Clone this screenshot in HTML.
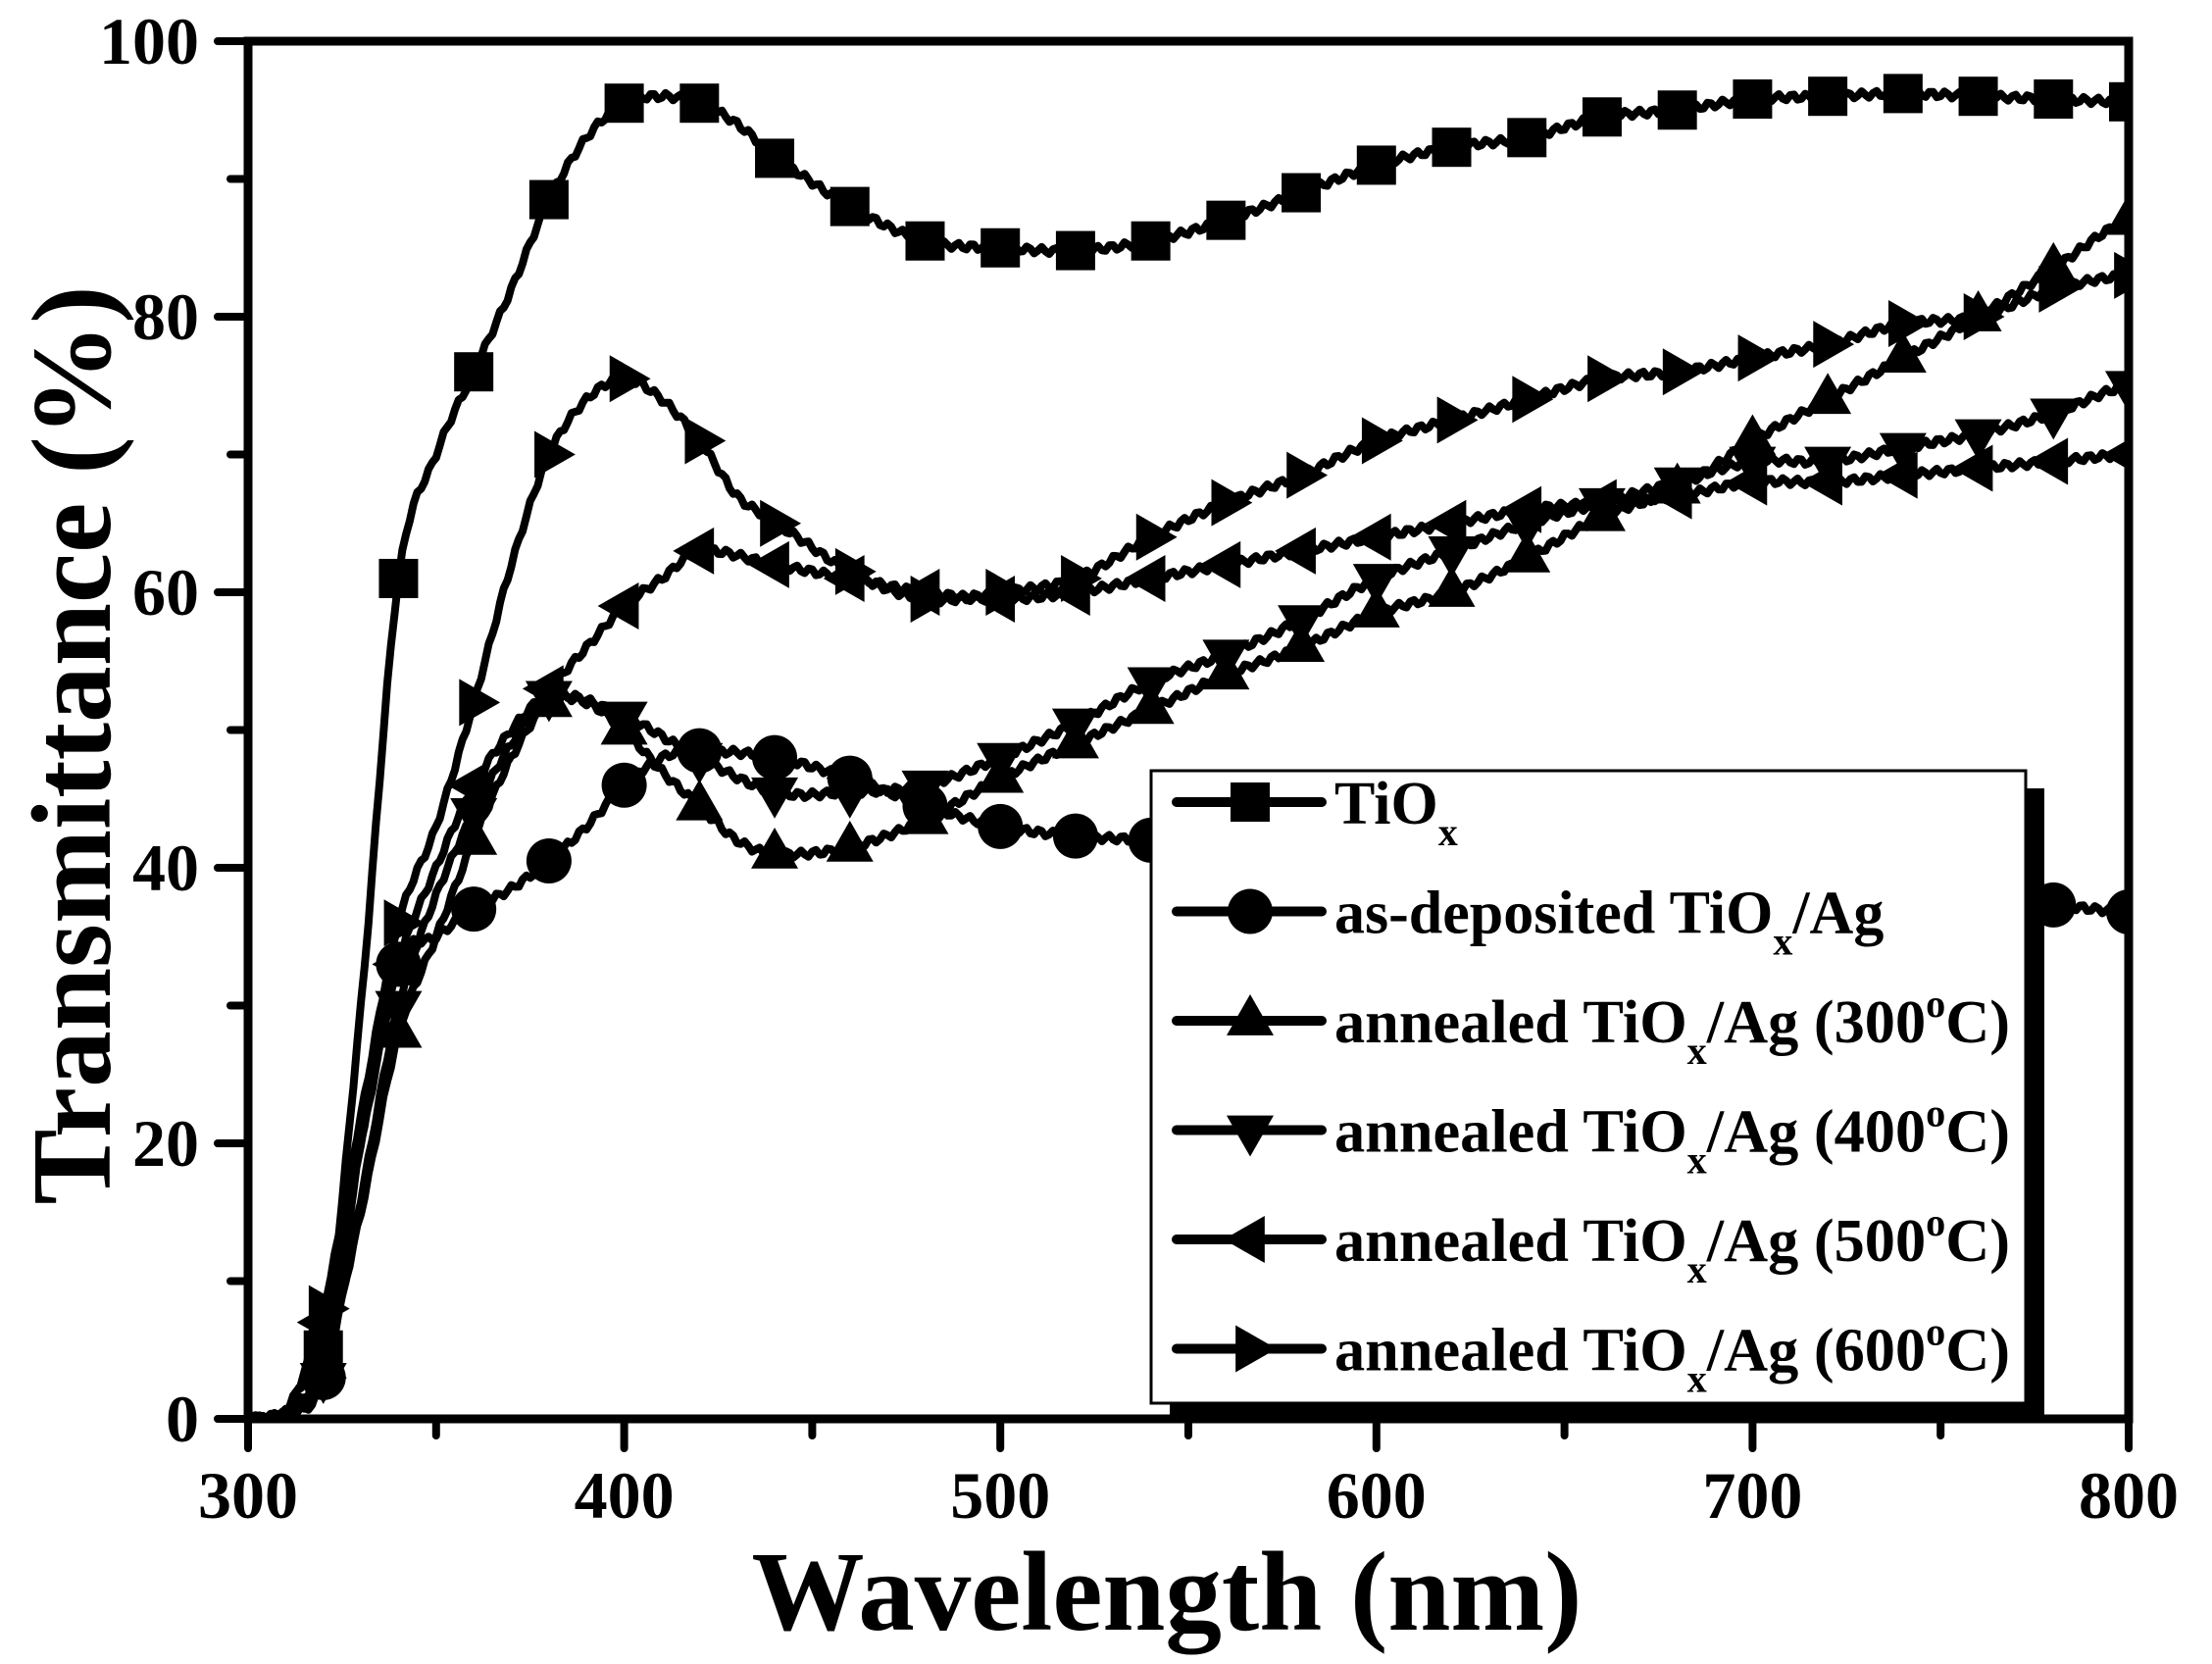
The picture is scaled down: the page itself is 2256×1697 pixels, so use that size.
<!DOCTYPE html>
<html><head><meta charset="utf-8"><style>
html,body{margin:0;padding:0;background:#fff}
svg{display:block}
text{font-family:"Liberation Serif",serif;font-weight:bold;fill:#000}
</style></head><body>
<svg id="s" width="2256" height="1697" viewBox="0 0 2256 1697" xmlns="http://www.w3.org/2000/svg">
<defs><clipPath id="cp"><rect x="253" y="42" width="1918" height="1405"/></clipPath></defs>
<g id="curves" clip-path="url(#cp)"></g>
<g id="axes"></g>
<!-- legend -->
<rect x="1193" y="804" width="892" height="646" fill="#000"/>
<rect x="1174" y="786" width="892" height="645" fill="#fff" stroke="#000" stroke-width="3"/>
<g id="leg"></g>
<text x="112" y="760" font-size="116" text-anchor="middle" transform="rotate(-90 112 760)" textLength="937" lengthAdjust="spacingAndGlyphs">Transmittance (%)</text>
<text x="1190" y="1662" font-size="116" text-anchor="middle" textLength="847" lengthAdjust="spacingAndGlyphs">Wavelength (nm)</text>
</svg>
<script>
var NS="http://www.w3.org/2000/svg";
function X(n){return 253+(n-300)*3.836;}
function Y(t){return 1447-t*14.05;}
function el(tag,attrs,parent,txt){var e=document.createElementNS(NS,tag);for(var k in attrs)e.setAttribute(k,attrs[k]);if(txt!==undefined)e.textContent=txt;parent.appendChild(e);return e;}
var S=document.getElementById('s'),C=document.getElementById('curves'),A=document.getElementById('axes'),L=document.getElementById('leg');
function parse(str){return str.trim().split(/\s+/).map(function(p){var a=p.split(':');return [+a[0],+a[1]];});}
var series=[
 {m:'sq',d:parse("300:0 310:0.5 320:5 330:30 340:61 350:70 360:76 370:82 380:88.5 390:93 400:95.5 410:96 420:95.5 430:94 440:91.5 460:88 480:85.5 500:85 520:84.8 540:85.5 560:87 580:89 600:91 620:92.3 640:93 660:94.5 680:95 700:95.8 720:96 740:96.2 760:96 780:95.8 800:95.6")},
 {m:'ci',d:parse("300:0 310:0.5 320:3 330:20 340:33 350:35 360:37 370:38.5 380:40.5 390:43 400:46 410:48 420:48.5 440:48 460:46.5 480:44.5 500:43 520:42.3 540:42 560:41.5 600:40.5 640:39.5 680:38.8 720:38.2 760:37.7 780:37.3 800:36.8")},
 {m:'up',d:parse("300:0 310:0.5 320:4 330:15 340:28 350:35 360:42 370:48 380:52 390:52 400:50 410:47 420:44.5 430:42 440:41 460:41.5 480:43.5 500:46.5 520:49 540:51.5 560:54 580:56 600:58.5 620:60 640:62.5 660:65.5 680:67.5 700:71 720:74 740:77 760:80 780:83.5 800:87")},
 {m:'dn',d:parse("300:0 310:0.5 320:3 330:16 340:30 350:38 360:44 370:49 380:52.5 400:51 420:48 440:45.5 460:45.5 480:46 500:48 520:50.5 540:53.5 560:55.5 580:58 600:61 620:63 640:65 660:66.5 680:68 700:69.5 720:69.5 740:70.5 760:71.5 780:73 800:75")},
 {m:'lt',d:parse("300:0 310:0.5 320:7 330:20 340:33 350:40 360:46 370:50 380:53 390:56 400:59 410:61 420:63 440:62 460:61 480:60 500:59.5 520:60 540:61 560:62 580:63 600:64 620:65 640:66 660:66.5 680:67 700:68 720:68 740:68.5 760:69 780:69.5 800:70")},
 {m:'rt',d:parse("300:0 310:0.5 320:8 330:22 340:36 350:43 360:52 370:62 380:70 390:74 400:75.5 410:74 420:71 430:67 440:65 460:61.5 480:59.5 500:60 520:61 540:64 560:66.5 580:68.5 600:71 620:72.5 640:74 660:75.5 680:76 700:77 720:78 740:79.5 760:80 780:82 800:83")}
];
function interp(d,x){for(var i=0;i<d.length-1;i++){if(x>=d[i][0]&&x<=d[i+1][0]){var t=(x-d[i][0])/(d[i+1][0]-d[i][0]);
 var p0=d[Math.max(i-1,0)][1],p1=d[i][1],p2=d[i+1][1],p3=d[Math.min(i+2,d.length-1)][1];
 var t2=t*t,t3=t2*t;return 0.5*((2*p1)+(-p0+p2)*t+(2*p0-5*p1+4*p2-p3)*t2+(-p0+3*p1-3*p2+p3)*t3);}}return d[d.length-1][1];}
function marker(type,cx,cy,sz,parent){
 var h=sz/2;
 if(type==='sq')el('rect',{x:cx-20,y:cy-20,width:40,height:40},parent);
 else if(type==='ci')el('circle',{cx:cx,cy:cy,r:23},parent);
 else{var a=27,b=24,pts;
  if(type==='up')pts=[[cx,cy-a],[cx+b,cy+a*0.55],[cx-b,cy+a*0.55]];
  if(type==='dn')pts=[[cx,cy+a],[cx+b,cy-a*0.55],[cx-b,cy-a*0.55]];
  if(type==='lt')pts=[[cx-a,cy],[cx+a*0.55,cy-b],[cx+a*0.55,cy+b]];
  if(type==='rt')pts=[[cx+a,cy],[cx-a*0.55,cy-b],[cx-a*0.55,cy+b]];
  el('polygon',{points:pts.map(function(p){return p.join(',');}).join(' ')},parent);}
}
series.forEach(function(s,si){
 var p='';for(var x=300;x<=800;x+=1){var y=interp(s.d,x);y+=Math.sin(x*1.7+si)*0.25;p+=(x==300?'M':'L')+X(x).toFixed(1)+','+Y(y).toFixed(1);}
 el('path',{d:p,fill:'none',stroke:'#000','stroke-width':8,'stroke-linejoin':'round'},C);
 for(var x=320;x<=800;x+=20){marker(s.m,X(x),Y(interp(s.d,x)),0,C);}
});
// axes
el('rect',{x:253,y:42,width:1918,height:1405,fill:'none',stroke:'#000','stroke-width':9},A);
for(var v=0;v<=100;v+=10){var y=Y(v),major=v%20==0;
 el('line',{x1:253,x2:major?222:235,y1:y,y2:y,stroke:'#000','stroke-width':8,'stroke-linecap':'round'},A);
 if(major)el('text',{x:203,y:y+23,'font-size':68,'text-anchor':'end'},A,String(v));}
for(var n=300;n<=800;n+=50){var x=X(n),major=n%100==0;
 el('line',{x1:x,x2:x,y1:1447,y2:major?1477:1464,stroke:'#000','stroke-width':8,'stroke-linecap':'round'},A);
 if(major)el('text',{x:x,y:1548,'font-size':68,'text-anchor':'middle'},A,String(n));}
// legend
var labels=[
 ['TiO','x','',''],
 ['as-deposited TiO','x','/Ag',''],
 ['annealed TiO','x','/Ag (300','C)'],
 ['annealed TiO','x','/Ag (400','C)'],
 ['annealed TiO','x','/Ag (500','C)'],
 ['annealed TiO','x','/Ag (600','C)']];
var types=['sq','ci','up','dn','lt','rt'];
for(var i=0;i<6;i++){var cy=818+i*111.5;
 el('line',{x1:1200,x2:1348,y1:cy,y2:cy,stroke:'#000','stroke-width':10,'stroke-linecap':'round'},L);
 marker(types[i],1275,cy,0,L);
 var t=el('text',{x:1361,y:cy+22,'font-size':62},L);
 el('tspan',{},t,labels[i][0]);
 el('tspan',{'font-size':40,dy:22},t,labels[i][1]);
 if(labels[i][2]){el('tspan',{dy:-22},t,labels[i][2]);}
 if(labels[i][3]){el('tspan',{'font-size':40,dy:-26},t,'o');el('tspan',{dy:26},t,labels[i][3]);}
 if(i>=2){t.setAttribute('textLength',689);t.setAttribute('lengthAdjust','spacingAndGlyphs');}
}
</script>
</body></html>
